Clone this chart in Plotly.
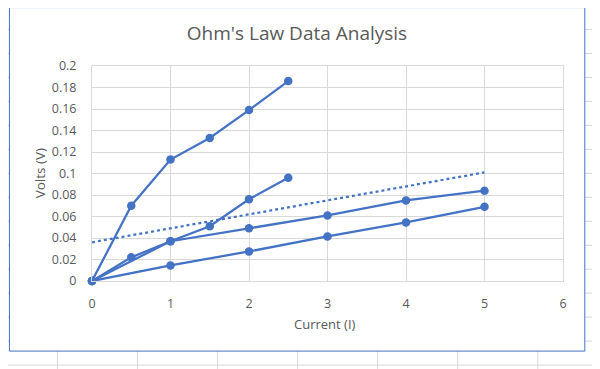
import plotly.graph_objects as go

# ---------------- data ----------------
s1_x = [0, 0.5, 1, 1.5, 2, 2.5]
s1_y = [0, 0.070, 0.113, 0.133, 0.159, 0.186]

s2_x = [0, 0.5, 1, 1.5, 2, 2.5]
s2_y = [0, 0.022, 0.037, 0.051, 0.076, 0.096]

s3_x = [0, 1, 2, 3, 4, 5]
s3_y = [0, 0.037, 0.049, 0.061, 0.075, 0.084]

s4_x = [0, 1, 2, 3, 4, 5]
s4_y = [0, 0.0145, 0.0275, 0.0415, 0.0545, 0.069]

trend_x = [0, 5]
trend_y = [0.036, 0.101]

x_ticks = [0, 1, 2, 3, 4, 5, 6]
y_ticks = [0, 0.02, 0.04, 0.06, 0.08, 0.1, 0.12, 0.14, 0.16, 0.18, 0.2]
y_tick_text = ["0", "0.02", "0.04", "0.06", "0.08", "0.1", "0.12", "0.14", "0.16", "0.18", "0.2"]

title_text = "Ohm's Law Data Analysis"
x_title = "Current (I)"
y_title = "Volts (V)"

# ---------------- layout geometry (reference pixels) ----------------
W, H = 600, 369
OFF = 8  # page body margin: figure is drawn 8px right/down of window origin
L, R, T, B = 92, 562.7, 66, 281.3
PW, PH = R - L, B - T


def px(x):
    return (x - L) / PW


def py(y):
    return (B - y) / PH


BLUE = "#4472C4"
GREY = "#595959"
FONT = "Open Sans, sans-serif"

fig = go.Figure()

for xs, ys in [(s1_x, s1_y), (s2_x, s2_y), (s3_x, s3_y), (s4_x, s4_y)]:
    fig.add_trace(go.Scatter(
        x=xs, y=ys, mode="lines+markers",
        line=dict(color=BLUE, width=2.25),
        marker=dict(color=BLUE, size=8.5),
        showlegend=False, cliponaxis=False,
    ))

fig.add_trace(go.Scatter(
    x=trend_x, y=trend_y, mode="lines",
    line=dict(color=BLUE, width=2.25, dash="dot"),
    showlegend=False,
))

shapes = []
sheet_line = dict(color="#d6d6d6", width=1)
# spreadsheet cell grid behind the chart
for gx in range(57, 601, 80):
    shapes.append(dict(type="line", xref="paper", yref="paper", layer="below",
                       x0=px(gx + 0.5), x1=px(gx + 0.5), y0=py(0), y1=py(H + OFF), line=sheet_line))
for gy in range(5, 380, 24):
    shapes.append(dict(type="line", xref="paper", yref="paper", layer="below",
                       x0=px(0), x1=px(W + OFF), y0=py(gy + 0.5), y1=py(gy + 0.5), line=sheet_line))
# chart area
shapes.append(dict(type="rect", xref="paper", yref="paper", layer="below",
                   x0=px(9.5), x1=px(584.5), y0=py(351.5), y1=py(7.5),
                   fillcolor="white", line=dict(color=BLUE, width=1)))

fig.update_layout(
    width=W, height=H,
    margin=dict(l=L - OFF, r=W - (R - OFF), t=T - OFF, b=H - (B - OFF), pad=0),
    paper_bgcolor="white",
    plot_bgcolor="rgba(0,0,0,0)",
    font=dict(family=FONT, color=GREY, size=12),
    title=dict(text=title_text, x=(297 - OFF) / W, xref="container", xanchor="center",
               y=1 - (33.5 - OFF) / H, yref="container", yanchor="middle",
               font=dict(family=FONT, size=19, color=GREY)),
    shapes=shapes,
    annotations=[
        dict(text=x_title, xref="paper", yref="paper", x=px(325), y=py(324),
             xanchor="center", yanchor="middle", showarrow=False,
             font=dict(family=FONT, size=13, color=GREY)),
        dict(text=y_title, xref="paper", yref="paper", x=px(40), y=py(173.5),
             xanchor="center", yanchor="middle", showarrow=False, textangle=-90,
             font=dict(family=FONT, size=13.5, color=GREY)),
    ],
    xaxis=dict(range=[0, 6], tickvals=x_ticks, showgrid=True, gridcolor="#d9d9d9",
               gridwidth=1, zeroline=False, showline=True, mirror=True,
               linecolor="#d9d9d9", linewidth=1, ticks="", ticklabelstandoff=11,
               tickfont=dict(family=FONT, size=12.5, color=GREY), fixedrange=True),
    yaxis=dict(range=[0, 0.2], tickvals=y_ticks, ticktext=y_tick_text, showgrid=True,
               gridcolor="#d9d9d9", gridwidth=1, zeroline=True, zerolinecolor="#bfbfbf",
               zerolinewidth=1, showline=True, mirror=True, linecolor="#d9d9d9",
               linewidth=1, ticks="", ticklabelstandoff=12,
               tickfont=dict(family=FONT, size=12.5, color=GREY), fixedrange=True),
)

fig.write_html("out.html")
